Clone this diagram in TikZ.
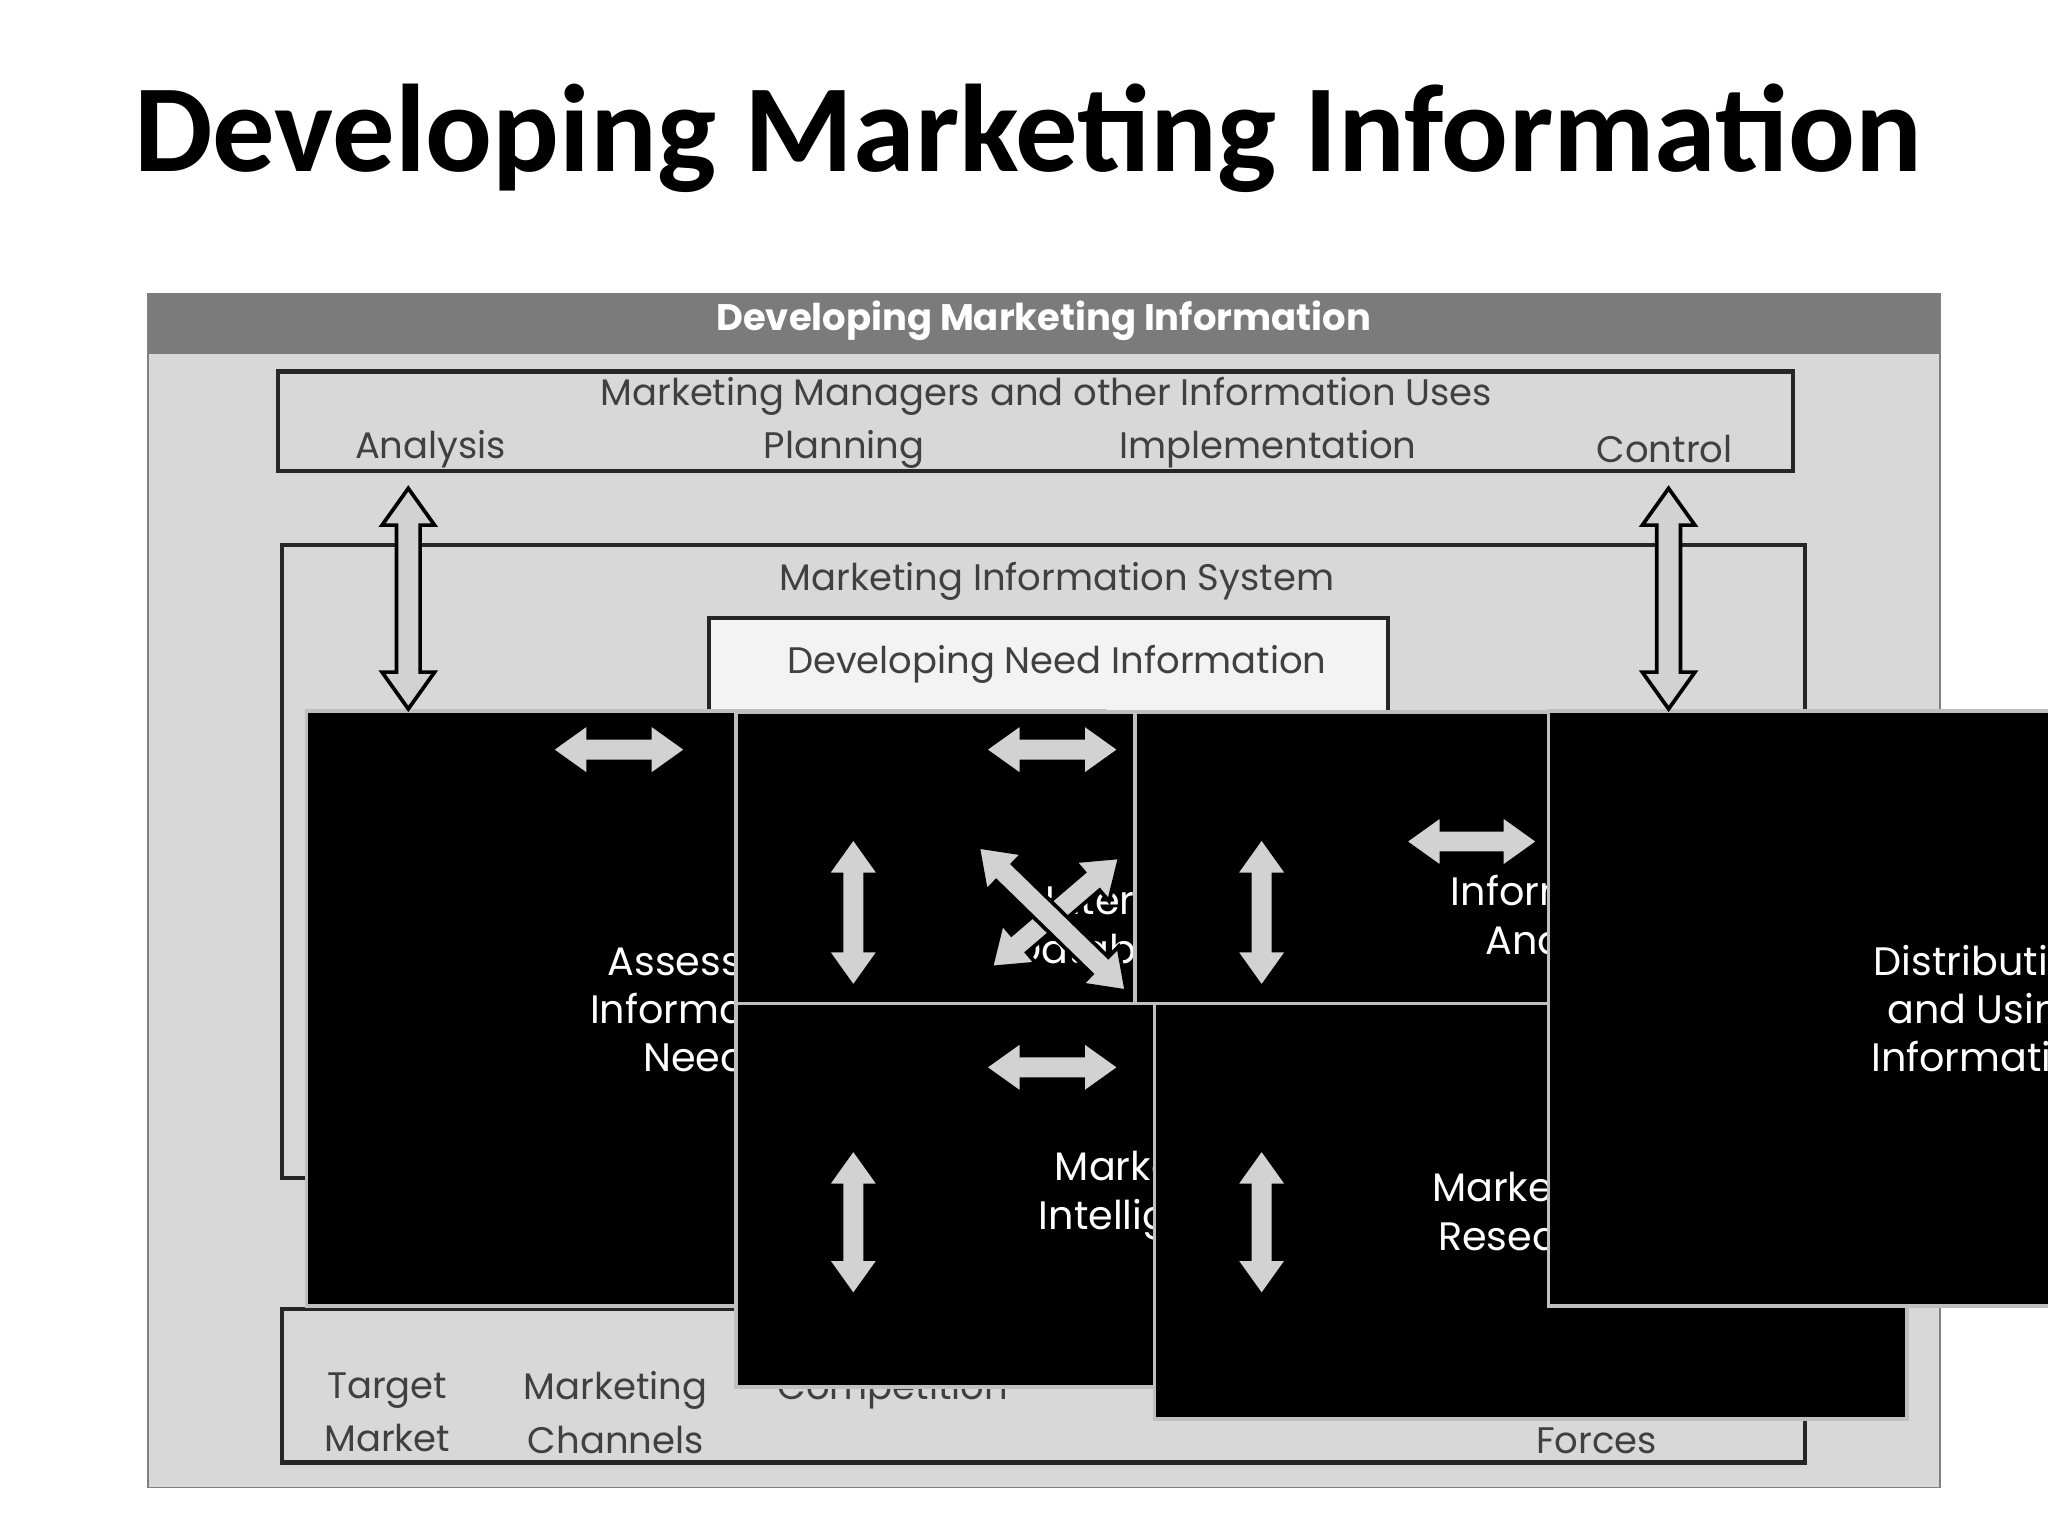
\documentclass[tikz,border=0pt]{standalone}
\usepackage{fontspec}
\setmainfont{Poppins}
\newfontfamily\titlefont{Carlito}
\usetikzlibrary{positioning}
\usetikzlibrary{calc}

\definecolor{panel}{HTML}{D8D8D8}
\definecolor{band}{HTML}{7B7B7B}
\definecolor{inner}{HTML}{F3F3F3}
\definecolor{arrowfill}{HTML}{D2D2D2}

\tikzset{
  frame/.style={draw=black!85, line width=0.9pt},
  blackbox/.style={draw=black!25, line width=0.8pt, fill=black, text=white, align=center,
    font=\fontsize{8.6}{10.5}\selectfont, anchor=north west},
  lbl/.style={font=\fontsize{8}{9.5}\selectfont, text=black!75, align=center},
  hollow/.style={draw=black, line width=0.8pt, fill=arrowfill, line join=miter},
}

% hollow double-headed arrow between two coordinates
\newcommand{\dblarrow}[2]{%
  \draw[hollow] (#1)
    -- ($(#1)!0.28cm!(#2)!0.2cm!90:(#2)$) -- ($(#1)!0.28cm!(#2)!0.09cm!90:(#2)$)
    -- ($(#2)!0.28cm!(#1)!0.09cm!-90:(#1)$) -- ($(#2)!0.28cm!(#1)!0.2cm!-90:(#1)$)
    -- (#2)
    -- ($(#2)!0.28cm!(#1)!0.2cm!90:(#1)$) -- ($(#2)!0.28cm!(#1)!0.09cm!90:(#1)$)
    -- ($(#1)!0.28cm!(#2)!0.09cm!-90:(#2)$) -- ($(#1)!0.28cm!(#2)!0.2cm!-90:(#2)$)
    -- cycle;}

\begin{document}
\begin{tikzpicture}[x=0.01cm, y=-0.01cm, inner sep=0pt]
    \useasboundingbox[fill=white] (0,0) rectangle (1560,1170);

    \node[font=\titlefont\bfseries\fontsize{27}{32}\selectfont] (title) at (783,105) {Developing Marketing Information};

    % panels
    \draw[draw=black!50, fill=panel] (113,224) rectangle (1478,1133);
    \fill[band] (113,224) rectangle (1478,270);
    \node[text=white, font=\bfseries\fontsize{8}{9.5}\selectfont] (band) at (795,244) {Developing Marketing Information};

    \draw[frame] (212,283) rectangle (1366,359);
    \node[lbl] (users) at (797,302) {Marketing Managers and other Information Uses};
    \node[lbl] (analysis) at (328,342) {Analysis};
    \node[lbl] (planning) at (643,342) {Planning};
    \node[lbl] (implement) at (966,342) {Implementation};
    \node[lbl] (control) at (1268,342) {Control};

    \draw[frame] (215,415) rectangle (1375,897);
    \node[lbl] (mis) at (805,443) {Marketing Information System};

    \draw[frame, fill=inner] (540,471) rectangle (1057,860);
    \node[lbl] (need) at (805,506) {Developing Need Information};

    \draw[frame] (215,997) rectangle (1375,1114);
    \node[lbl] (env) at (812,1024) {Marketing Environment};
    \node[lbl] (target) at (295,1076) {Target\\[2pt]Market};
    \node[lbl] (channels) at (469,1076) {Marketing\\[2pt]Channels};
    \node[lbl] (competition) at (680,1059) {Competition};
    \node[lbl] (public) at (928,1059) {Public};
    \node[lbl] (macro) at (1216,1076) {Macro Environment\\[2pt]Forces};

    % black boxes
    \node[blackbox, minimum width=173, minimum height=129] (assess) at (232,540) {Assessing\\Information\\Needs};
    \node[blackbox, minimum width=167, minimum height=92] (internal) at (559,541) {Internal\\Databases};
    \node[blackbox, minimum width=187, minimum height=90] (infoan) at (863,541) {Information\\Analysis};
    \node[blackbox, minimum width=181, minimum height=83] (intel) at (559,763) {Marketing\\Intelligence};
    \node[blackbox, minimum width=163, minimum height=90] (research) at (878,763) {Marketing\\Research};
    \node[blackbox, minimum width=190, minimum height=129] (distrib) at (1178,540) {Distributing\\and Using\\Information};

    % arrow ends
    \coordinate (a1) at (311,372);  \coordinate (a2) at (311,540);
    \coordinate (b1) at (1271,372); \coordinate (b2) at (1271,540);
    \coordinate (c1) at (420,571);  \coordinate (c2) at (523,571);
    \coordinate (d1) at (750,571);  \coordinate (d2) at (853,571);
    \coordinate (e1) at (1070,641); \coordinate (e2) at (1172,641);
    \coordinate (f1) at (750,813);  \coordinate (f2) at (853,813);
    \coordinate (g1) at (650,638);  \coordinate (g2) at (650,752);
    \coordinate (h1) at (961,638);  \coordinate (h2) at (961,752);
    \coordinate (i1) at (650,875);  \coordinate (i2) at (650,987);
    \coordinate (j1) at (961,875);  \coordinate (j2) at (961,987);
    \coordinate (k1) at (745,645);  \coordinate (k2) at (858,755);
    \coordinate (l1) at (853,653);  \coordinate (l2) at (755,737);

    \dblarrow{a1}{a2}
    \dblarrow{b1}{b2}
    \dblarrow{c1}{c2}
    \dblarrow{d1}{d2}
    \dblarrow{e1}{e2}
    \dblarrow{f1}{f2}
    \dblarrow{g1}{g2}
    \dblarrow{h1}{h2}
    \dblarrow{i1}{i2}
    \dblarrow{j1}{j2}
    \dblarrow{l1}{l2}
    \dblarrow{k1}{k2}
\end{tikzpicture}
\end{document}
